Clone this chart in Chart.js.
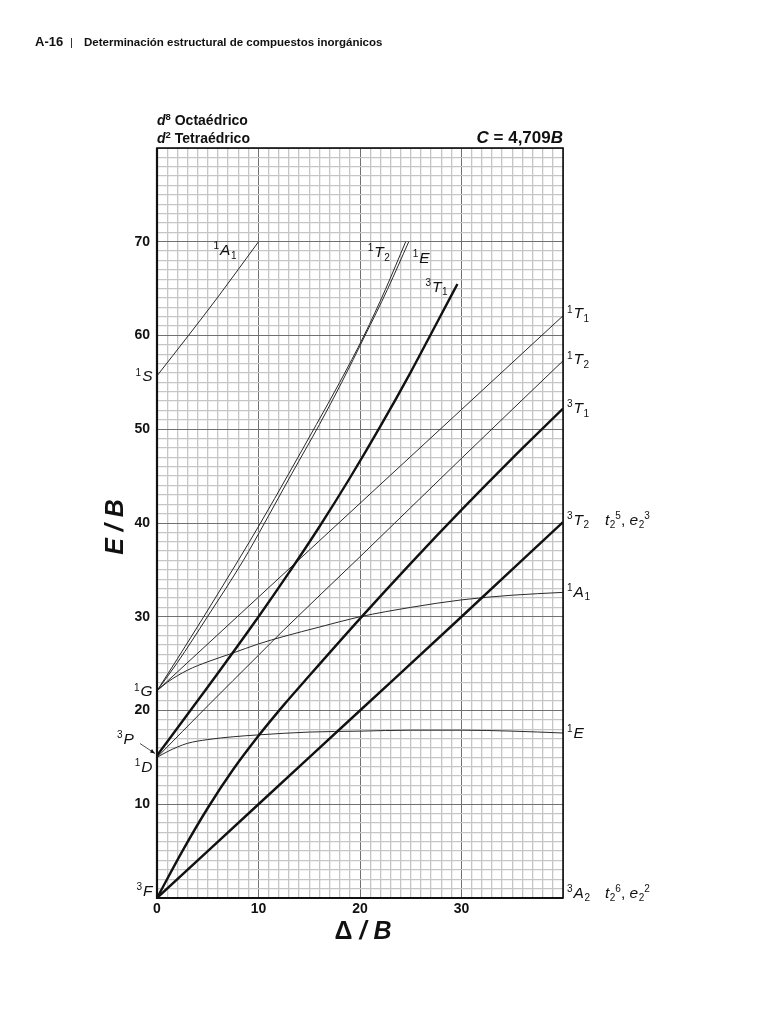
<!DOCTYPE html>
<html><head><meta charset="utf-8">
<script src="https://cdn.jsdelivr.net/npm/chart.js@4.4.0/dist/chart.umd.min.js"></script>
<style>html,body{margin:0;padding:0;background:#fff;} #wrap{position:relative;width:768px;height:1024px;}</style>
</head><body><div id="wrap"><canvas id="c" width="768" height="1024"></canvas></div>
<script>
// Axis tick labels
const xTickLabels = [0, 10, 20, 30];
const yTickLabels = [10, 20, 30, 40, 50, 60, 70];

// Curves: [Δ/B, E/B]
// Triplets (thick)
const c3T2 = [[0,0],[10,10],[20,20],[30,30],[40,40.1]];
const c3T1F = [[0,0],[2.5,5.0],[5,9.6],[7.5,13.7],[10,17.3],[12.5,20.6],[15,23.7],[20,29.8],[25,35.7],[30,41.4],[35,46.9],[40,52.2]];
const c3T1P = [[0,15.2],[5,22.5],[10,30.0],[13,34.7],[16,39.6],[19,44.8],[22,50.3],[25,56.1],[27.5,61.2],[29.6,65.5]];
// Singlets (thin)
const c1E_D = [[0,15.0],[1,15.6],[2,16.1],[3,16.5],[5,16.9],[7.5,17.2],[10,17.4],[15,17.7],[20,17.8],[25,17.9],[30,17.9],[35,17.8],[40,17.6]];
const c1T2_D = [[0,15.0],[5,20.5],[10,25.9],[12.5,28.6],[20,36.4],[30,46.9],[40,57.3]];
const c1T1_G = [[0,22.1],[10,32.1],[20,42.1],[30,52.1],[40,62.1]];
const c1A1_G = [[0,22.1],[1,23.0],[3,24.3],[5,25.2],[7.4,26.1],[10,27.1],[12.5,27.9],[16,28.9],[20,30.0],[25,31.0],[30,31.8],[35,32.3],[40,32.6]];
const c1T2_G = [[0,22.1],[2,25.5],[4.6,30],[8,36],[10.2,40],[13,45.3],[15.7,50.5],[18,55],[20.4,60],[22.5,64.9],[24.5,70]];
const c1E_G = [[0,22.1],[2,25.1],[4.97,30],[8.5,36],[10.6,40],[13.3,45.3],[16.0,50.5],[18.2,55],[20.5,60],[22.7,64.9],[24.8,70]];
const c1A1_S = [[0,55.7],[3.1,60],[6,64.1],[10,70]];

const toXY = a => a.map(p => ({x: p[0], y: p[1]}));
const thick = {borderColor: '#111', borderWidth: 2.4};
const thin = {borderColor: '#2a2a2a', borderWidth: 1.0};
const series = [
  [c3T2, thick], [c3T1F, thick], [c3T1P, thick],
  [c1E_D, thin], [c1T2_D, thin], [c1T1_G, thin], [c1A1_G, thin],
  [c1T2_G, thin], [c1E_G, thin], [c1A1_S, thin]
];

const FONT = '"Liberation Sans", Arial, Helvetica, sans-serif';

function term(ctx, x, y, sup, L, sub, size) {
  const small = Math.round(size * 0.66);
  const base = y + size * 0.36;
  let cx = x;
  ctx.textAlign = 'left';
  ctx.textBaseline = 'alphabetic';
  if (sup) {
    ctx.font = `${small}px ${FONT}`;
    ctx.fillText(sup, cx, base - size * 0.38);
    cx += ctx.measureText(sup).width + 1;
  }
  ctx.font = `italic ${size}px ${FONT}`;
  ctx.fillText(L, cx, base);
  cx += ctx.measureText(L).width + 0.5;
  if (sub) {
    ctx.font = `${small}px ${FONT}`;
    ctx.fillText(sub, cx, base + size * 0.22);
    cx += ctx.measureText(sub).width;
  }
  return cx;
}
function termWidth(ctx, sup, L, sub, size) {
  const small = Math.round(size * 0.66);
  let w = 0;
  ctx.font = `${small}px ${FONT}`;
  if (sup) w += ctx.measureText(sup).width + 1;
  if (sub) w += ctx.measureText(sub).width;
  ctx.font = `italic ${size}px ${FONT}`;
  w += ctx.measureText(L).width + 0.5;
  return w;
}
function config(ctx, x, y, a, b, size) {
  const small = Math.round(size * 0.66);
  const base = y + size * 0.36;
  let cx = x;
  const parts = [['t', a], ['e', b]];
  parts.forEach((p, i) => {
    ctx.font = `italic ${size}px ${FONT}`;
    ctx.fillText(p[0], cx, base); cx += ctx.measureText(p[0]).width + 0.5;
    ctx.font = `${small}px ${FONT}`;
    ctx.fillText('2', cx, base + size * 0.22); cx += ctx.measureText('2').width;
    ctx.fillText(String(p[1]), cx, base - size * 0.38); cx += ctx.measureText(String(p[1])).width;
    if (i === 0) { ctx.font = `${size}px ${FONT}`; ctx.fillText(',', cx, base); cx += ctx.measureText(', ').width; }
  });
}

const last = a => a[a.length - 1];

const textPlugin = {
  id: 'texts',
  afterDraw(chart) {
    const ctx = chart.ctx;
    const xs = chart.scales.x, ys = chart.scales.y;
    const ca = chart.chartArea;
    const X = v => xs.getPixelForValue(v), Y = v => ys.getPixelForValue(v);
    ctx.save();
    // frame
    ctx.strokeStyle = '#111';
    ctx.lineWidth = 1.6;
    ctx.strokeRect(ca.left, ca.top, ca.right - ca.left, ca.bottom - ca.top);
    ctx.lineWidth = 2.2;
    ctx.beginPath(); ctx.moveTo(ca.left, ca.top); ctx.lineTo(ca.left, ca.bottom); ctx.lineTo(ca.right, ca.bottom); ctx.stroke();

    ctx.fillStyle = '#111';
    // header
    ctx.textBaseline = 'alphabetic'; ctx.textAlign = 'left';
    ctx.font = `bold 13px ${FONT}`;
    ctx.fillText('A-16', 35, 46);
    ctx.font = `11px ${FONT}`;
    ctx.fillText('|', 70, 46);
    ctx.font = `bold 11.5px ${FONT}`;
    ctx.fillText('Determinación estructural de compuestos inorgánicos', 84, 46);

    // d8 / d2 titles
    const tsize = 14;
    [['8', ' Octaédrico', 125], ['2', ' Tetraédrico', 143]].forEach(t => {
      let cx = 157;
      ctx.font = `bold italic ${tsize}px ${FONT}`;
      ctx.fillText('d', cx, t[2]); cx += ctx.measureText('d').width;
      ctx.font = `bold 9.5px ${FONT}`;
      ctx.fillText(t[0], cx, t[2] - 5.5); cx += ctx.measureText(t[0]).width;
      ctx.font = `bold ${tsize}px ${FONT}`;
      ctx.fillText(t[1], cx, t[2]);
    });
    // C = 4,709B
    {
      const s = 17;
      ctx.font = `bold italic ${s}px ${FONT}`;
      const wB = ctx.measureText('B').width, wC = ctx.measureText('C').width;
      ctx.font = `bold ${s}px ${FONT}`;
      const mid = ' = 4,709';
      const wM = ctx.measureText(mid).width;
      let cx = ca.right - (wC + wM + wB);
      ctx.font = `bold italic ${s}px ${FONT}`; ctx.fillText('C', cx, 143); cx += wC;
      ctx.font = `bold ${s}px ${FONT}`; ctx.fillText(mid, cx, 143); cx += wM;
      ctx.font = `bold italic ${s}px ${FONT}`; ctx.fillText('B', cx, 143);
    }
    // axis titles
    {
      const s = 25;
      ctx.font = `bold ${s}px ${FONT}`;
      const wD = ctx.measureText('\u0394').width;
      ctx.font = `bold italic ${s}px ${FONT}`;
      const wR = ctx.measureText(' / B').width;
      let cx = 363 - (wD + wR) / 2;
      ctx.font = `bold ${s}px ${FONT}`; ctx.fillText('\u0394', cx, 939);
      ctx.font = `bold italic ${s}px ${FONT}`; ctx.fillText(' / B', cx + wD, 939);
      ctx.save();
      ctx.translate(123, 527); ctx.rotate(-Math.PI / 2);
      ctx.textAlign = 'center';
      ctx.fillText('E / B', 0, 0);
      ctx.restore();
    }
    // right-hand labels at Δ/B = 40
    const ts = 15.5;
    const rx = ca.right + 4;
    term(ctx, rx, Y(last(c1T1_G)[1]) - 3, '1', 'T', '1', ts);
    term(ctx, rx, Y(last(c1T2_D)[1]) - 2, '1', 'T', '2', ts);
    term(ctx, rx, Y(last(c3T1F)[1]) - 1, '3', 'T', '1', ts);
    term(ctx, rx, Y(last(c3T2)[1]) - 3, '3', 'T', '2', ts);
    config(ctx, 605, Y(last(c3T2)[1]) - 3, 5, 3, ts);
    term(ctx, rx, Y(last(c1A1_G)[1]) - 1, '1', 'A', '1', ts);
    term(ctx, rx, Y(last(c1E_D)[1]) - 1, '1', 'E', '', ts);
    term(ctx, rx, Y(0) - 6, '3', 'A', '2', ts);
    config(ctx, 605, Y(0) - 6, 6, 2, ts);

    // left-hand free-ion labels
    const lx = ca.left - 4;
    const left = (sup, L, yv, dy) => {
      const w = termWidth(ctx, sup, L, '', ts);
      term(ctx, lx - w, Y(yv) + dy, sup, L, '', ts);
    };
    left('1', 'S', c1A1_S[0][1], 0);
    left('1', 'G', c1A1_G[0][1], 0);
    left('1', 'D', c1E_D[0][1], 9);
    left('3', 'F', 0, -8);
    term(ctx, 117, Y(c3T1P[0][1]) - 17, '3', 'P', '', ts);
    // arrow from 3P
    ctx.strokeStyle = '#222'; ctx.lineWidth = 0.8;
    const ax = ca.left - 2, ay = Y(c3T1P[0][1]) - 2;
    ctx.beginPath(); ctx.moveTo(140, ay - 10); ctx.lineTo(ax, ay); ctx.stroke();
    ctx.beginPath(); ctx.moveTo(ax, ay); ctx.lineTo(ax - 5, ay - 1); ctx.lineTo(ax - 3, ay - 4.5); ctx.closePath(); ctx.fill();

    // labels of curves at the top
    const e1 = last(c1A1_S), e2 = last(c1T2_G), e3 = last(c1E_G), e4 = last(c3T1P);
    term(ctx, X(e1[0]) - 45, Y(e1[1]) + 8, '1', 'A', '1', ts);
    term(ctx, X(e2[0]) - 38, Y(e2[1]) + 10, '1', 'T', '2', ts);
    term(ctx, X(e3[0]) + 4, Y(e3[1]) + 16, '1', 'E', '', ts);
    term(ctx, X(e4[0]) - 32, Y(e4[1]) + 2, '3', 'T', '1', ts);
    ctx.restore();
  }
};

const gridColor = c => (c.tick && Math.round(c.tick.value) % 10 === 0) ? '#707070' : '#c6c6c6';
const gridWidth = c => (c.tick && Math.round(c.tick.value) % 10 === 0) ? 1 : 1.3;

new Chart(document.getElementById('c'), {
  type: 'scatter',
  data: {
    datasets: series.map(s => Object.assign({
      data: toXY(s[0]), showLine: true, pointRadius: 0, fill: false,
      cubicInterpolationMode: 'monotone'
    }, s[1]))
  },
  options: {
    responsive: false, animation: false, devicePixelRatio: 1,
    layout: {padding: {top: 148, right: 205, bottom: 0, left: 0}},
    plugins: {legend: {display: false}, tooltip: {enabled: false}},
    scales: {
      x: {
        type: 'linear', min: 0, max: 40,
        afterFit: s => { s.height = 126; },
        ticks: {stepSize: 1, autoSkip: false, maxRotation: 0, padding: 3, color: '#111',
          font: {family: FONT, size: 14, weight: 'bold'},
          callback: v => xTickLabels.includes(v) ? String(v) : ''},
        grid: {color: gridColor, lineWidth: gridWidth, drawTicks: false},
        border: {display: false}
      },
      y: {
        type: 'linear', min: 0, max: 80,
        afterFit: s => { s.width = 157; },
        ticks: {stepSize: 1, autoSkip: false, padding: 7, color: '#111',
          font: {family: FONT, size: 14, weight: 'bold'},
          callback: v => yTickLabels.includes(v) ? String(v) : ''},
        grid: {color: gridColor, lineWidth: gridWidth, drawTicks: false},
        border: {display: false}
      }
    }
  },
  plugins: [textPlugin]
});
</script></body></html>
